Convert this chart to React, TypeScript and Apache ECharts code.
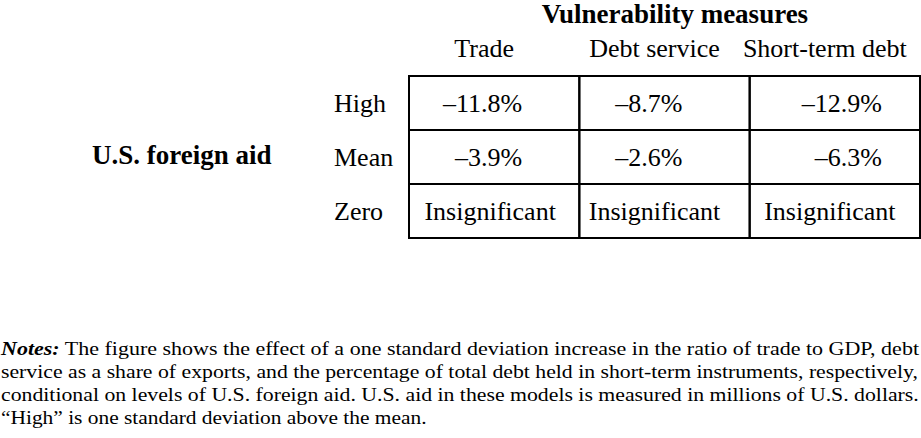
import React, { useEffect, useRef } from 'react';
import * as echarts from 'echarts';

const measures = ['Trade', 'Debt service', 'Short-term debt'];
const aidLevels = ['High', 'Mean', 'Zero'];
const highEffects = [-11.8, -8.7, -12.9];
const meanEffects = [-3.9, -2.6, -6.3];
const zeroEffects: (number | null)[] = [null, null, null];

const NOTES_LEAD = 'Notes:';
const notesLines = [
    'The figure shows the effect of a one standard deviation increase in the ratio of trade to GDP, debt',
    'service as a share of exports, and the percentage of total debt held in short-term instruments, respectively,',
    'conditional on levels of U.S. foreign aid. U.S. aid in these models is measured in millions of U.S. dollars.',
    '\u201cHigh\u201d is one standard deviation above the mean.',
];

const SERIF = '"Liberation Serif", "Times New Roman", serif';
// where the lines of the note end (the first three are justified)
const notesRight = [920, 919, 919, 427];
// right edge of the percentages, from each column's centre
const valueAnchor = [28, 18, 47];
// small shift of the centred "Insignificant" texts
const centreShift = [-4, -10, -5];

const fmt = (v: number | null) =>
    v === null ? 'Insignificant' : '\u2013' + Math.abs(v).toFixed(1) + '%';

const App: React.FC = () => {
    const chartRef = useRef<HTMLDivElement>(null);

    useEffect(() => {
        document.body.style.margin = '0';
        if (!chartRef.current) return;
        const chart = echarts.init(chartRef.current, null, { renderer: 'svg' });

        const rows = [highEffects, meanEffects, zeroEffects];
        const cells = rows.flatMap((vals, r) =>
            vals.map((v, c) => ({ value: [c, r], text: fmt(v), isNum: v !== null }))
        );

        const ctx = document.createElement('canvas').getContext('2d')!;
        const measure = (s: string, font: string) => {
            ctx.font = font;
            return ctx.measureText(s).width;
        };
        const notesFont = `18px ${SERIF}`;
        const leadFont = `italic bold 18px ${SERIF}`;

        const notes = notesLines.map((line, i) => {
            const natural =
                i === 0
                    ? measure(NOTES_LEAD, leadFont) + measure(' ' + line, notesFont)
                    : measure(line, notesFont);
            return {
                type: 'text',
                x: 1,
                y: 349 + 23 * i,
                scaleX: (notesRight[i] - 1) / natural,
                style: {
                    text: i === 0 ? `{lead|${NOTES_LEAD}} ${line}` : line,
                    fontSize: 18,
                    fontFamily: SERIF,
                    fill: '#000',
                    align: 'left',
                    verticalAlign: 'middle',
                    rich: {
                        lead: {
                            fontSize: 18,
                            fontFamily: SERIF,
                            fontStyle: 'italic',
                            fontWeight: 'bold',
                            fill: '#000',
                        },
                    },
                },
            };
        });

        const option = {
            animation: false,
            grid: { left: 409, right: 1, top: 76, bottom: 200, containLabel: false },
            xAxis: {
                type: 'category',
                position: 'top',
                data: measures,
                axisLine: { show: false },
                axisTick: { show: false },
                splitLine: { show: false },
                axisLabel: {
                    interval: 0,
                    fontSize: 26,
                    fontFamily: SERIF,
                    color: '#000',
                    margin: 15,
                    padding: [0, 20, 0, 0],
                },
            },
            yAxis: {
                type: 'category',
                inverse: true,
                data: aidLevels,
                axisLine: { show: false },
                axisTick: { show: false },
                splitLine: { show: false },
                axisLabel: {
                    interval: 0,
                    fontSize: 26,
                    fontFamily: SERIF,
                    color: '#000',
                    align: 'left',
                    margin: 75,
                },
            },
            series: [
                {
                    type: 'custom',
                    encode: { x: 0, y: 1 },
                    data: cells.map((d) => d.value),
                    renderItem: (params: any, api: any) => {
                        const col = api.value(0);
                        const cell = cells[params.dataIndex];
                        const c = api.coord([col, api.value(1)]);
                        const s = api.size([1, 1]);
                        return {
                            type: 'group',
                            children: [
                                {
                                    type: 'rect',
                                    shape: { x: c[0] - s[0] / 2, y: c[1] - s[1] / 2, width: s[0], height: s[1] },
                                    style: { fill: 'none', stroke: '#000', lineWidth: 2 },
                                },
                                {
                                    type: 'text',
                                    x: cell.isNum ? c[0] + valueAnchor[col] : c[0] + centreShift[col],
                                    y: c[1],
                                    style: {
                                        text: cell.text,
                                        fontSize: 26,
                                        fontFamily: SERIF,
                                        fill: '#000',
                                        align: cell.isNum ? 'right' : 'center',
                                        verticalAlign: 'middle',
                                    },
                                },
                            ],
                        };
                    },
                },
            ],
            graphic: [
                {
                    type: 'text',
                    x: 675,
                    y: 14,
                    style: {
                        text: 'Vulnerability measures',
                        fontSize: 27,
                        fontWeight: 'bold',
                        fontFamily: SERIF,
                        fill: '#000',
                        align: 'center',
                        verticalAlign: 'middle',
                    },
                },
                {
                    type: 'text',
                    x: 92,
                    y: 155,
                    style: {
                        text: 'U.S. foreign aid',
                        fontSize: 27,
                        fontWeight: 'bold',
                        fontFamily: SERIF,
                        fill: '#000',
                        align: 'left',
                        verticalAlign: 'middle',
                    },
                },
                ...notes,
            ],
        };

        chart.setOption(option as any);
        return () => {
            chart.dispose();
        };
    }, []);

    return <div ref={chartRef} style={{ width: '921px', height: '438px' }} />;
};

export default App;
